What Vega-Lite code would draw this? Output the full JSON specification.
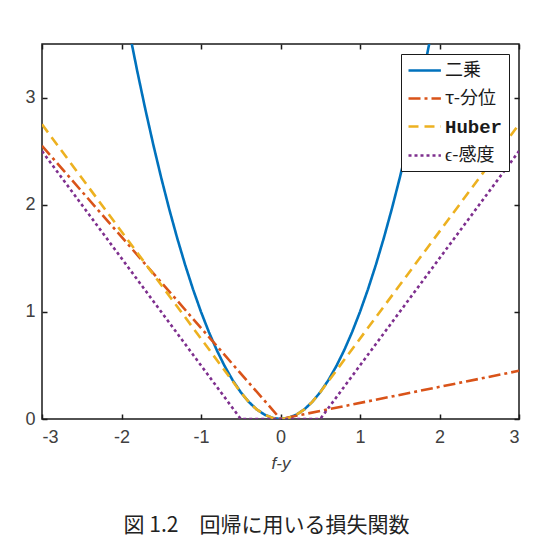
{
  "$schema": "https://vega.github.io/schema/vega-lite/v6.json",
  "width": 477,
  "height": 375,
  "autosize": {"type": "none"},
  "padding": {"left": 42, "top": 44, "right": 25, "bottom": 133},
  "background": "white",
  "config": {
    "view": {"stroke": "#1a1a1a", "strokeWidth": 1.5},
    "axis": {
      "domain": false,
      "grid": false,
      "tickSize": -5,
      "tickColor": "#1a1a1a",
      "tickWidth": 1.5,
      "labelFont": "Liberation Sans",
      "labelFontSize": 18,
      "labelColor": "#404040",
      "labelExpr": "toString(datum.value)",
      "titleFont": "Liberation Sans",
      "titleFontSize": 17,
      "titleFontStyle": "italic",
      "titleFontWeight": "normal",
      "titleColor": "#404040"
    }
  },
  "title": {
    "text": "図 1.2　回帰に用いる損失関数",
    "orient": "bottom",
    "font": "Noto Sans CJK JP",
    "fontSize": 21,
    "fontWeight": "normal",
    "color": "#222222",
    "offset": 44,
    "dx": -14
  },
  "data": {
    "values": [
      {"s": "二乗", "x": -2.0, "y": 4.0},
      {"s": "二乗", "x": -1.9, "y": 3.61},
      {"s": "二乗", "x": -1.8, "y": 3.24},
      {"s": "二乗", "x": -1.7, "y": 2.89},
      {"s": "二乗", "x": -1.6, "y": 2.56},
      {"s": "二乗", "x": -1.5, "y": 2.25},
      {"s": "二乗", "x": -1.4, "y": 1.96},
      {"s": "二乗", "x": -1.3, "y": 1.69},
      {"s": "二乗", "x": -1.2, "y": 1.44},
      {"s": "二乗", "x": -1.1, "y": 1.21},
      {"s": "二乗", "x": -1.0, "y": 1.0},
      {"s": "二乗", "x": -0.9, "y": 0.81},
      {"s": "二乗", "x": -0.8, "y": 0.64},
      {"s": "二乗", "x": -0.7, "y": 0.49},
      {"s": "二乗", "x": -0.6, "y": 0.36},
      {"s": "二乗", "x": -0.5, "y": 0.25},
      {"s": "二乗", "x": -0.4, "y": 0.16},
      {"s": "二乗", "x": -0.3, "y": 0.09},
      {"s": "二乗", "x": -0.2, "y": 0.04},
      {"s": "二乗", "x": -0.1, "y": 0.01},
      {"s": "二乗", "x": 0.0, "y": 0.0},
      {"s": "二乗", "x": 0.1, "y": 0.01},
      {"s": "二乗", "x": 0.2, "y": 0.04},
      {"s": "二乗", "x": 0.3, "y": 0.09},
      {"s": "二乗", "x": 0.4, "y": 0.16},
      {"s": "二乗", "x": 0.5, "y": 0.25},
      {"s": "二乗", "x": 0.6, "y": 0.36},
      {"s": "二乗", "x": 0.7, "y": 0.49},
      {"s": "二乗", "x": 0.8, "y": 0.64},
      {"s": "二乗", "x": 0.9, "y": 0.81},
      {"s": "二乗", "x": 1.0, "y": 1.0},
      {"s": "二乗", "x": 1.1, "y": 1.21},
      {"s": "二乗", "x": 1.2, "y": 1.44},
      {"s": "二乗", "x": 1.3, "y": 1.69},
      {"s": "二乗", "x": 1.4, "y": 1.96},
      {"s": "二乗", "x": 1.5, "y": 2.25},
      {"s": "二乗", "x": 1.6, "y": 2.56},
      {"s": "二乗", "x": 1.7, "y": 2.89},
      {"s": "二乗", "x": 1.8, "y": 3.24},
      {"s": "二乗", "x": 1.9, "y": 3.61},
      {"s": "二乗", "x": 2.0, "y": 4.0},
      {"s": "τ-分位", "x": -3, "y": 2.55},
      {"s": "τ-分位", "x": 0, "y": 0},
      {"s": "τ-分位", "x": 3, "y": 0.45},
      {"s": "Huber", "x": -3, "y": 2.75},
      {"s": "Huber", "x": -0.5, "y": 0.25},
      {"s": "Huber", "x": -0.4, "y": 0.16},
      {"s": "Huber", "x": -0.3, "y": 0.09},
      {"s": "Huber", "x": -0.2, "y": 0.04},
      {"s": "Huber", "x": -0.1, "y": 0.01},
      {"s": "Huber", "x": 0, "y": 0},
      {"s": "Huber", "x": 0.1, "y": 0.01},
      {"s": "Huber", "x": 0.2, "y": 0.04},
      {"s": "Huber", "x": 0.3, "y": 0.09},
      {"s": "Huber", "x": 0.4, "y": 0.16},
      {"s": "Huber", "x": 0.5, "y": 0.25},
      {"s": "Huber", "x": 3, "y": 2.75},
      {"s": "ϵ-感度", "x": -3, "y": 2.5},
      {"s": "ϵ-感度", "x": -0.5, "y": 0},
      {"s": "ϵ-感度", "x": 0.5, "y": 0},
      {"s": "ϵ-感度", "x": 3, "y": 2.5}
    ]
  },
  "layer": [
    {
      "mark": {"type": "line", "strokeWidth": 2.6, "clip": true},
      "encoding": {
        "x": {
          "field": "x", "type": "quantitative",
          "scale": {"domain": [-3, 3], "nice": false},
          "axis": {"values": [-3, -2, -1, 0, 1, 2, 3], "title": "f-y", "labelPadding": 14, "titlePadding": 9}
        },
        "y": {
          "field": "y", "type": "quantitative",
          "scale": {"domain": [0, 3.5], "nice": false},
          "axis": {"values": [0, 1, 2, 3], "title": null, "labelPadding": 12}
        },
        "color": {
          "field": "s", "type": "nominal",
          "scale": {"domain": ["二乗", "τ-分位", "Huber", "ϵ-感度"], "range": ["#0072BD", "#D95319", "#EDB120", "#7E2F8E"]},
          "legend": {
            "title": null,
            "orient": "top-right",
            "offset": 10,
            "fillColor": "white",
            "strokeColor": "#1a1a1a",
            "padding": 6,
            "symbolType": "M-1,0H2.6",
            "symbolSize": 324,
            "symbolStrokeWidth": 2.6,
            "labelFontSize": 18,
            "labelColor": "#1a1a1a",
            "labelOffset": 17,
            "rowPadding": 8,
            "encode": {
              "labels": {
                "update": {
                  "font": {"signal": "datum.label === 'Huber' ? 'Liberation Mono' : 'Noto Sans CJK JP'"},
                  "fontWeight": {"signal": "datum.label === 'Huber' ? 'bold' : 'normal'"},
                  "fontSize": {"signal": "datum.label === 'Huber' ? 19 : 18"}
                }
              }
            }
          }
        },
        "strokeDash": {
          "field": "s", "type": "nominal",
          "scale": {"domain": ["二乗", "τ-分位", "Huber", "ϵ-感度"], "range": [[1, 0], [12, 4, 3, 4], [10, 6], [3, 3]]},
          "legend": null
        }
      }
    },
    {
      "mark": {"type": "point", "opacity": 0},
      "encoding": {
        "x": {
          "field": "x", "type": "quantitative",
          "scale": {"domain": [-3, 3], "nice": false},
          "axis": {"orient": "top", "values": [-3, -2, -1, 0, 1, 2, 3], "labels": false, "title": null}
        },
        "y": {
          "field": "y", "type": "quantitative",
          "scale": {"domain": [0, 3.5], "nice": false},
          "axis": {"orient": "right", "values": [0, 1, 2, 3], "labels": false, "title": null}
        }
      }
    }
  ],
  "resolve": {"axis": {"x": "independent", "y": "independent"}}
}
